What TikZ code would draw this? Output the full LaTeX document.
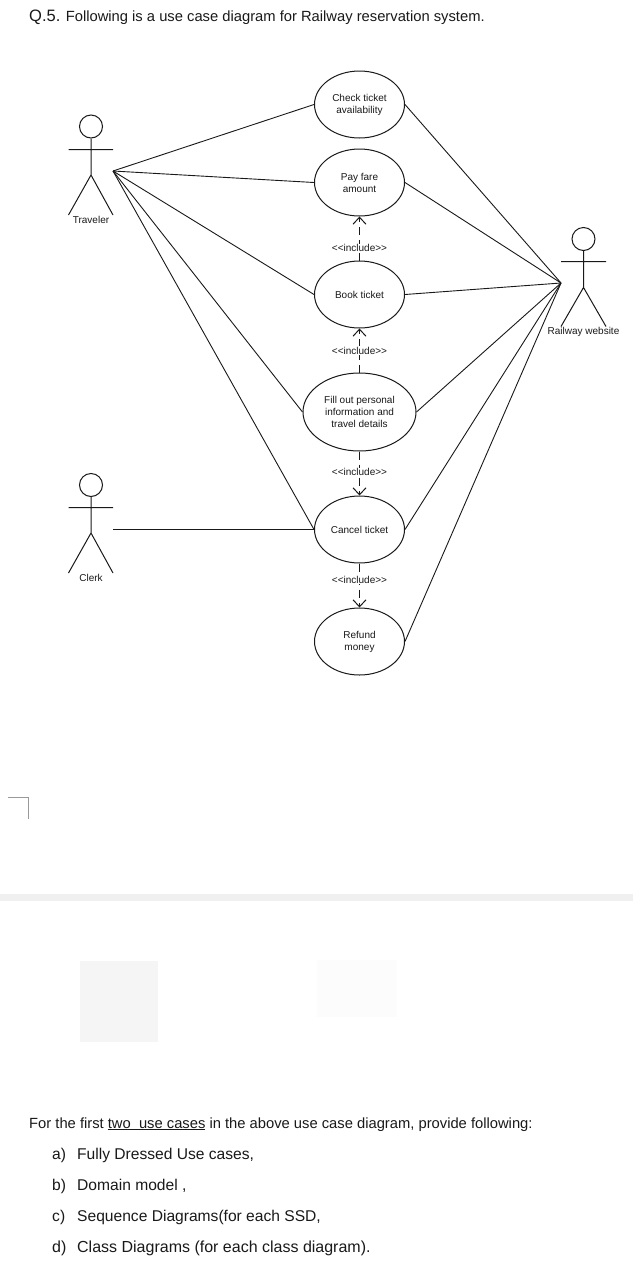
\documentclass[tikz,border=0pt]{standalone}
\usepackage{fontspec}
\setmainfont{Liberation Sans}
\usetikzlibrary{arrows.meta,shapes.geometric}
\tikzset{
  usecase/.style={draw=black!90,line width=1pt,ellipse,minimum width=90pt,minimum height=67pt,inner sep=0pt,align=center,font=\fontsize{10}{12}\selectfont,text=black!90,fill=white},
  bigcase/.style={usecase,minimum width=113pt,minimum height=78pt},
  assoc/.style={draw=black!90,line width=0.9pt},
  incl/.style={draw=black!90,line width=0.9pt,dash pattern=on 8pt off 5pt,-{Straight Barb[length=7pt,width=13pt,line width=1pt]}},
  incllabel/.style={fill=white,inner sep=0.5pt,font=\fontsize{10}{10}\selectfont,text=black!90},
  stick/.style={draw=black!90,line width=1pt},
  head/.style={circle,draw=black!90,line width=1pt,minimum size=23pt,inner sep=0pt},
  actorlabel/.style={inner sep=0pt,font=\fontsize{10}{11}\selectfont,text=black!90},
  bodytext/.style={anchor=base west,inner sep=0pt,font=\fontsize{14.75}{16}\selectfont,text=black!90},
  itemtext/.style={bodytext,font=\fontsize{15.6}{18}\selectfont},
  lastitemtext/.style={bodytext,font=\fontsize{16}{18}\selectfont},
}
\newcommand{\inclabel}{<{}<include>{}>}
\newcommand{\itemlabel}[1]{\makebox[25pt][l]{#1}}
\begin{document}
\begin{tikzpicture}[x=1pt,y=-1pt]
\useasboundingbox (0,0) rectangle (633,1280);
% faint scan artefacts
\fill[black!6] (0,894) rectangle (633,901);
\fill[black!4] (80,961) rectangle (158,1042);
\fill[black!1] (317,960) rectangle (397,1017);
\draw[black!40,line width=0.8pt] (8,797) -- (28,797) -- (28,819);

% title
\node[bodytext] (title) at (29,21) {{\fontsize{16.5}{16}\selectfont Q.5.} Following is a use case diagram for Railway reservation system.};

% use cases
\node[usecase] (check) at (359.5,104.5) {Check ticket\\availability};
\node[usecase] (pay) at (359.5,182.5) {Pay fare\\amount};
\node[usecase] (book) at (359.5,294.5) {Book ticket};
\node[bigcase] (fill) at (359.5,412) {Fill out personal\\information and\\travel details};
\node[usecase] (cancel) at (359.5,529.5) {Cancel ticket};
\node[usecase] (refund) at (359.5,641.5) {Refund\\money};

% actors
\node[head] (travelerhead) at (91,126.5) {};
\draw[stick] (travelerhead.south) -- (91,175) (68.5,149.5) -- (113,149.5) (68.5,215) -- (91,175) -- (113,215);
\node[actorlabel] (traveler) at (91,220) {Traveler};
\coordinate (travelerhub) at (113,171);

\node[head] (clerkhead) at (91,485) {};
\draw[stick] (clerkhead.south) -- (91,533) (68.5,507.5) -- (113,507.5) (68.5,573) -- (91,533) -- (113,573);
\node[actorlabel] (clerk) at (91,578) {Clerk};
\coordinate (clerkhub) at (113,529.5);

\node[head] (websitehead) at (583.5,239) {};
\draw[stick] (websitehead.south) -- (583.5,287.5) (561,261.5) -- (606,261.5) (561,326.5) -- (583.5,287.5) -- (606,326.5);
\node[actorlabel] (website) at (583.5,332) {Railway website};
\coordinate (websitehub) at (561,283);

% associations
\foreach \c in {check,pay,book,fill,cancel} \draw[assoc] (travelerhub) -- (\c.west);
\draw[assoc] (clerkhub) -- (cancel.west);
\foreach \c in {check,pay,book,fill,cancel,refund} \draw[assoc] (websitehub) -- (\c.east);

% includes
\draw[incl] (book.north) -- node[incllabel,pos=0.29] (l1) {\inclabel} (pay.south);
\draw[incl] (fill.north) -- node[incllabel,pos=0.5] (l2) {\inclabel} (book.south);
\draw[incl] (fill.south) -- node[incllabel,pos=0.46] (l3) {\inclabel} (cancel.north);
\draw[incl] (cancel.south) -- node[incllabel,pos=0.38] (l4) {\inclabel} (refund.north);

% bottom text
\node[bodytext] (q0) at (29,1128) {For the first \underline{two\ \ use cases} in the above use case diagram, provide following:};
\node[itemtext] (qa) at (52,1159) {\itemlabel{a)}Fully Dressed Use cases,};
\node[itemtext] (qb) at (52,1190) {\itemlabel{b)}Domain model ,};
\node[itemtext] (qc) at (52,1221) {\itemlabel{c)}Sequence Diagrams(for each SSD,};
\node[lastitemtext] (qd) at (52,1252) {\itemlabel{d)}Class Diagrams (for each class diagram).};
\end{tikzpicture}
\end{document}
